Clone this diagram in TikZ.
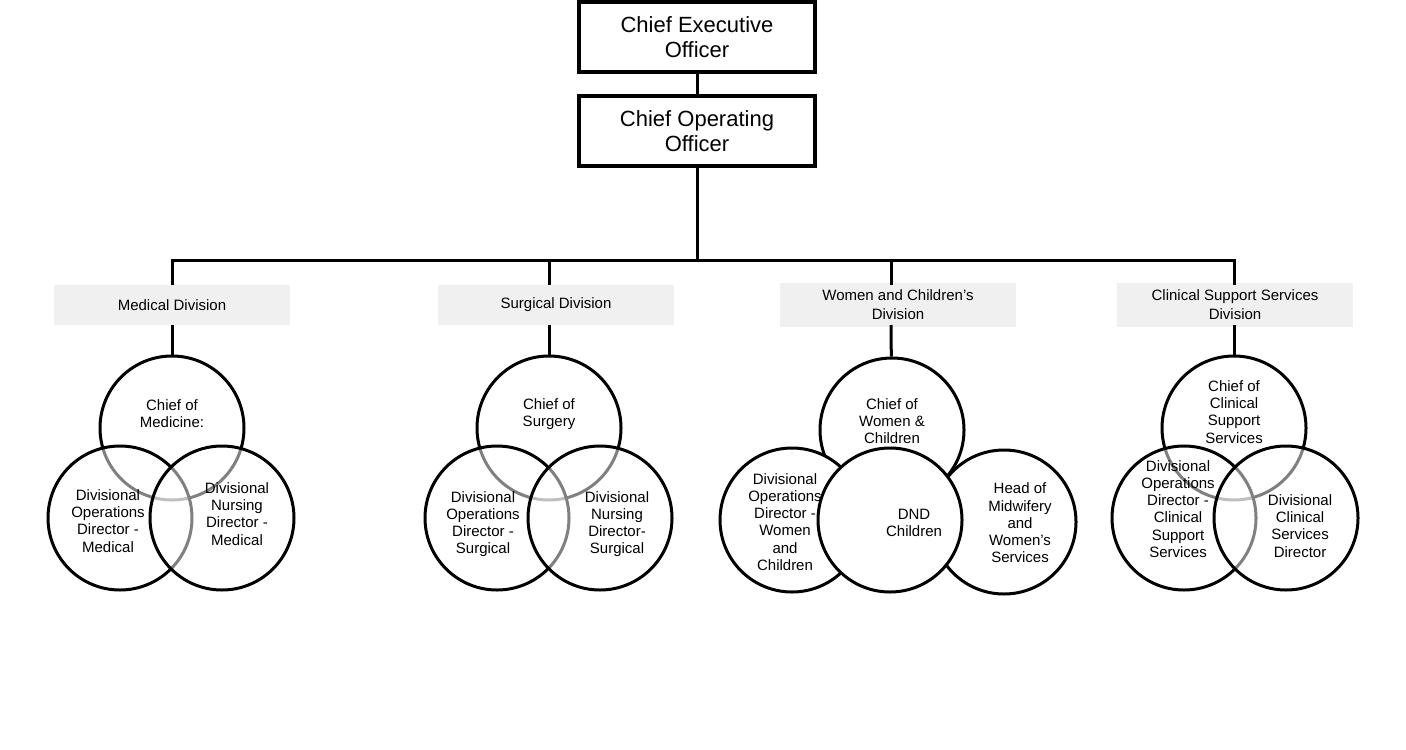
\documentclass[tikz,border=0pt]{standalone}
\usepackage{fontspec}
\setmainfont{Liberation Sans}
\usetikzlibrary{positioning}
\tikzset{
  topbox/.style={draw,line width=1.6pt,minimum width=118pt,minimum height=35pt,align=center,font=\fontsize{11}{12.5}\selectfont},
  divbox/.style={fill=black!6,minimum width=118pt,minimum height=20pt,align=center,font=\fontsize{7.5}{9.5}\selectfont},
  venn/.style={circle,draw,line width=1.5pt,minimum size=72pt,fill=white,fill opacity=0.5},
  solid venn/.style={circle,draw,line width=1.5pt,minimum size=72pt,fill=white},
  vtext/.style={align=center,font=\fontsize{7.5}{8.6}\selectfont},
  link/.style={line width=1.5pt}
}
\begin{document}
\begin{tikzpicture}[x=0.5pt,y=-0.5pt]
\useasboundingbox (0,0) rectangle (1406,749);
% top of the chart
\node[topbox] (ceo) at (697,37) {Chief Executive\\Officer};
\node[topbox] (coo) at (697,131) {Chief Operating\\Officer};
\draw[link] (ceo) -- (coo);
\coordinate (hub) at (697,260);
\draw[link] (coo) -- (hub);
% divisions
\node[divbox] (med) at (172,305) {Medical Division};
\node[divbox] (surg) at (556,305) {Surgical Division};
\node[divbox] (wom) at (898,305) {Women and Children's\\Division};
\node[divbox] (css) at (1235,305) {Clinical Support Services\\Division};
\draw[link] (172,285) |- (hub) -| (1234,285);
\draw[link] (549,260) -- (549,285);
\draw[link] (891,260) -- (891,285);
% medical
\node[venn] (medtop) at (172,428) {};
\node[venn] (medleft) at (120,518) {};
\node[venn] (medright) at (222,518) {};
\draw[link] (172,325) -- (medtop);
\node[vtext] (medtopt) at (172,414) {Chief of\\Medicine:};
\node[vtext] (medleftt) at (108,521) {Divisional\\Operations\\Director -\\Medical};
\node[vtext] (medrightt) at (237,514) {Divisional\\Nursing\\Director -\\Medical};
% surgical
\node[venn] (surgtop) at (549,428) {};
\node[venn] (surgleft) at (497,518) {};
\node[venn] (surgright) at (600,518) {};
\draw[link] (549,325) -- (surgtop);
\node[vtext] (surgtopt) at (549,414) {Chief of\\Surgery};
\node[vtext] (surglefft) at (483,524) {Divisional\\Operations\\Director -\\Surgical};
\node[vtext] (surgrightt) at (617,524) {Divisional\\Nursing\\Director-\\Surgical};
% women and children
\node[solid venn] (womtop) at (892,430) {};
\node[solid venn] (womleft) at (792,520) {};
\node[solid venn] (womright) at (1004,522) {};
\node[solid venn] (womdnd) at (890,520) {};
\draw[link] (891,325) -- (womtop);
\node[vtext] (womtopt) at (892,421) {Chief of\\Women \&\\Children};
\node[vtext] (womleftt) at (785,522) {Divisional\\Operations\\Director -\\Women\\and\\Children};
\node[vtext] (womdndt) at (914,523) {DND\\Children};
\node[vtext] (womrightt) at (1020,523) {Head of\\Midwifery\\and\\Women's\\Services};
% clinical support
\node[venn] (csstop) at (1234,428) {};
\node[venn] (cssleft) at (1184,518) {};
\node[venn] (cssright) at (1286,518) {};
\draw[link] (1234,325) -- (csstop);
\node[vtext] (csstopt) at (1234,412) {Chief of\\Clinical\\Support\\Services};
\node[vtext] (cssleftt) at (1178,509) {Divisional\\Operations\\Director -\\Clinical\\Support\\Services};
\node[vtext] (cssrightt) at (1300,526) {Divisional\\Clinical\\Services\\Director};
\end{tikzpicture}
\end{document}
